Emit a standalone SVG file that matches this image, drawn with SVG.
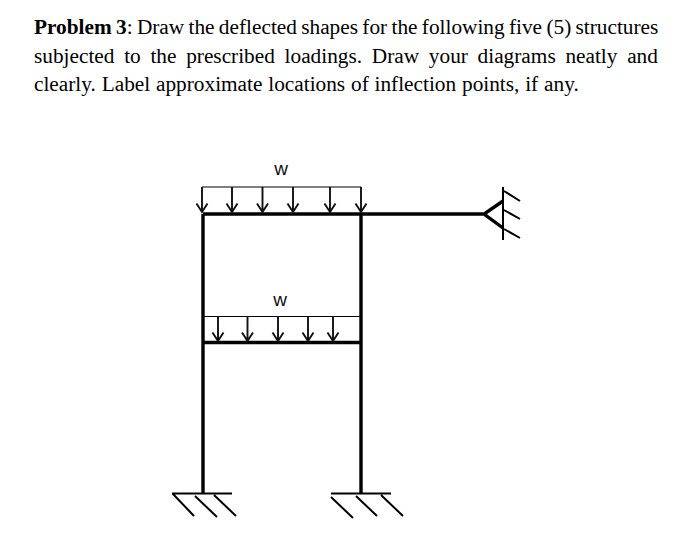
<svg xmlns="http://www.w3.org/2000/svg" width="696" height="553" viewBox="0 0 696 553">
<defs>
<style>
.t{font-family:"Liberation Serif","Times New Roman",serif;font-size:21.300px;fill:#000}
.w{font-family:"Liberation Sans",Arial,sans-serif;font-size:19px;fill:#111;text-anchor:middle}
.m{fill:none;stroke:#000;stroke-width:3.400}
.l{fill:none;stroke:#000;stroke-width:2}
.a{fill:none;stroke:#111;stroke-width:1.900}
.g{fill:none;stroke:#555;stroke-width:1.400}
</style>
<path id="ar" class="a" d="M0 -25V0M-5.500 -8.500L0 0L5.500 -8.500"/>
</defs>
<rect width="696" height="553" fill="#fff"/>
<g id="problem-text">
<text class="t" x="34" y="34" word-spacing="-1"><tspan font-weight="bold">Problem 3</tspan>: Draw the deflected shapes for the following five (5) structures</text>
<text class="t" x="34" y="63" word-spacing="4.400">subjected to the prescribed loadings. Draw your diagrams neatly and</text>
<text class="t" x="34" y="91" word-spacing="0.500">clearly. Label approximate locations of inflection points, if any.</text>
</g>
<g id="connectors">
<path class="m" d="M203 214V493M361 214V493M203 214H483M203 342.500H361"/>
</g>
<g id="load-top">
<text class="w" x="281" y="175">w</text>
<path class="g" d="M202 187H361"/>
<use href="#ar" x="202" y="212"/><use href="#ar" x="232" y="212"/><use href="#ar" x="262.500" y="212"/><use href="#ar" x="293" y="212"/><use href="#ar" x="330" y="212"/><use href="#ar" x="361" y="212"/>
</g>
<g id="load-mid">
<text class="w" x="280" y="306">w</text>
<path class="l" style="stroke-width:1.200" d="M203 316.500H361"/>
<use href="#ar" x="218" y="341"/><use href="#ar" x="247.500" y="341"/><use href="#ar" x="278" y="341"/><use href="#ar" x="308" y="341"/><use href="#ar" x="333" y="341"/>
</g>
<g id="support-left">
<path class="l" d="M172 493.500H232M173 494L194 516M195 496L217 517M214 495L236 516"/>
</g>
<g id="support-right">
<path class="l" d="M331 493.500H391M331 497L353 518M356 496L377 516M381 495L403 516"/>
</g>
<g id="support-pin">
<path class="m" d="M503 201L484 214L503 228"/>
<path class="l" d="M503 187V240M504 191L520 201M504 210L520 219M504 229L520 238"/>
</g>
</svg>
